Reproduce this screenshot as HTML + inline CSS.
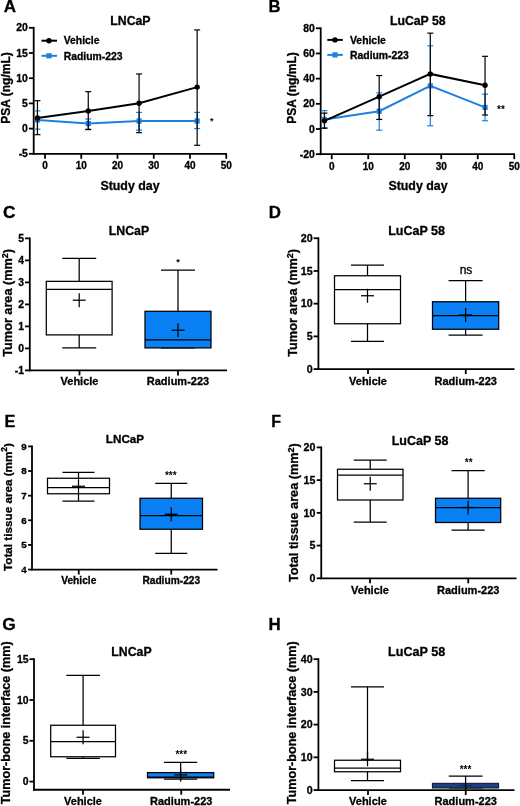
<!DOCTYPE html>
<html lang="en">
<head>
<meta charset="utf-8">
<title>Figure</title>
<style>
html,body{margin:0;padding:0;background:#fff;}
svg{display:block;font-family:"Liberation Sans",Arial,sans-serif;filter:blur(0.3px);}
text{stroke:#000;stroke-width:.3px;}
text.st{stroke:none;}
</style>
</head>
<body>
<svg width="520" height="806" viewBox="0 0 520 806">
<rect x="0" y="0" width="520" height="806" fill="#fff"/>
<g>
<text x="3.7" y="11.9" font-size="17" text-anchor="start" font-weight="bold" >A</text>
<line x1="33.7" y1="26.9" x2="33.7" y2="154.7" stroke="#000" stroke-width="1.8" />
<line x1="28.9" y1="27.8" x2="33.7" y2="27.8" stroke="#000" stroke-width="1.8" />
<text x="27.9" y="31.44" font-size="10.4" text-anchor="end" font-weight="bold" >20</text>
<line x1="28.9" y1="53" x2="33.7" y2="53" stroke="#000" stroke-width="1.8" />
<text x="27.9" y="56.64" font-size="10.4" text-anchor="end" font-weight="bold" >15</text>
<line x1="28.9" y1="78.2" x2="33.7" y2="78.2" stroke="#000" stroke-width="1.8" />
<text x="27.9" y="81.84" font-size="10.4" text-anchor="end" font-weight="bold" >10</text>
<line x1="28.9" y1="103.4" x2="33.7" y2="103.4" stroke="#000" stroke-width="1.8" />
<text x="27.9" y="107.04" font-size="10.4" text-anchor="end" font-weight="bold" >5</text>
<line x1="28.9" y1="128.6" x2="33.7" y2="128.6" stroke="#000" stroke-width="1.8" />
<text x="27.9" y="132.24" font-size="10.4" text-anchor="end" font-weight="bold" >0</text>
<line x1="28.9" y1="153.8" x2="33.7" y2="153.8" stroke="#000" stroke-width="1.8" />
<text x="27.9" y="157.44" font-size="10.4" text-anchor="end" font-weight="bold" >-5</text>
<line x1="32.8" y1="153.8" x2="227" y2="153.8" stroke="#000" stroke-width="1.8" />
<line x1="45" y1="153.8" x2="45" y2="158.8" stroke="#000" stroke-width="1.8" />
<text x="45" y="169.2" font-size="10" text-anchor="middle" font-weight="bold" >0</text>
<line x1="81.25" y1="153.8" x2="81.25" y2="158.8" stroke="#000" stroke-width="1.8" />
<text x="81.25" y="169.2" font-size="10" text-anchor="middle" font-weight="bold" >10</text>
<line x1="117.5" y1="153.8" x2="117.5" y2="158.8" stroke="#000" stroke-width="1.8" />
<text x="117.5" y="169.2" font-size="10" text-anchor="middle" font-weight="bold" >20</text>
<line x1="153.75" y1="153.8" x2="153.75" y2="158.8" stroke="#000" stroke-width="1.8" />
<text x="153.75" y="169.2" font-size="10" text-anchor="middle" font-weight="bold" >30</text>
<line x1="190" y1="153.8" x2="190" y2="158.8" stroke="#000" stroke-width="1.8" />
<text x="190" y="169.2" font-size="10" text-anchor="middle" font-weight="bold" >40</text>
<line x1="226.25" y1="153.8" x2="226.25" y2="158.8" stroke="#000" stroke-width="1.8" />
<text x="226.25" y="169.2" font-size="10" text-anchor="middle" font-weight="bold" >50</text>
<text x="130.4" y="25" font-size="12.3" text-anchor="middle" font-weight="bold" >LNCaP</text>
<text x="130" y="189.8" font-size="12.4" text-anchor="middle" font-weight="bold" >Study day</text>
<text transform="translate(10,88) rotate(-90)" font-size="12" text-anchor="middle" font-weight="bold">PSA (ng/mL)</text>
<line x1="41.5" y1="40.7" x2="57" y2="40.7" stroke="#000" stroke-width="2" />
<circle cx="49" cy="40.7" r="2.7" fill="#000"/>
<text x="63.7" y="44.4" font-size="10.4" text-anchor="start" font-weight="bold" >Vehicle</text>
<line x1="41.5" y1="55.8" x2="57" y2="55.8" stroke="#1f80e0" stroke-width="2" />
<rect x="46.4" y="53.2" width="5.2" height="5.2" fill="#1f80e0"/>
<text x="63.7" y="59.6" font-size="10.4" text-anchor="start" font-weight="bold" >Radium-223</text>
<line x1="37.44" y1="129.11" x2="37.44" y2="110.89" stroke="#1f80e0" stroke-width="1.2" />
<line x1="34.44" y1="129.11" x2="40.44" y2="129.11" stroke="#1f80e0" stroke-width="1.2" />
<line x1="34.44" y1="110.89" x2="40.44" y2="110.89" stroke="#1f80e0" stroke-width="1.2" />
<line x1="88.26" y1="129.11" x2="88.26" y2="118.99" stroke="#1f80e0" stroke-width="1.2" />
<line x1="85.26" y1="129.11" x2="91.26" y2="129.11" stroke="#1f80e0" stroke-width="1.2" />
<line x1="85.26" y1="118.99" x2="91.26" y2="118.99" stroke="#1f80e0" stroke-width="1.2" />
<line x1="139.08" y1="130.12" x2="139.08" y2="112.41" stroke="#1f80e0" stroke-width="1.2" />
<line x1="136.08" y1="130.12" x2="142.08" y2="130.12" stroke="#1f80e0" stroke-width="1.2" />
<line x1="136.08" y1="112.41" x2="142.08" y2="112.41" stroke="#1f80e0" stroke-width="1.2" />
<line x1="197.16" y1="128.6" x2="197.16" y2="112.41" stroke="#1f80e0" stroke-width="1.2" />
<line x1="194.16" y1="128.6" x2="200.16" y2="128.6" stroke="#1f80e0" stroke-width="1.2" />
<line x1="194.16" y1="112.41" x2="200.16" y2="112.41" stroke="#1f80e0" stroke-width="1.2" />
<polyline points="37.44,120.00 88.26,123.54 139.08,121.01 197.16,121.01" fill="none" stroke="#1f80e0" stroke-width="2"/>
<rect x="34.84" y="117.4" width="5.2" height="5.2" fill="#1f80e0"/>
<rect x="85.66" y="120.94" width="5.2" height="5.2" fill="#1f80e0"/>
<rect x="136.48" y="118.41" width="5.2" height="5.2" fill="#1f80e0"/>
<rect x="194.56" y="118.41" width="5.2" height="5.2" fill="#1f80e0"/>
<line x1="37.44" y1="134.67" x2="37.44" y2="100.67" stroke="#000" stroke-width="1.2" />
<line x1="34.44" y1="134.67" x2="40.44" y2="134.67" stroke="#000" stroke-width="1.2" />
<line x1="34.44" y1="100.67" x2="40.44" y2="100.67" stroke="#000" stroke-width="1.2" />
<line x1="88.26" y1="129.61" x2="88.26" y2="91.66" stroke="#000" stroke-width="1.2" />
<line x1="85.26" y1="129.61" x2="91.26" y2="129.61" stroke="#000" stroke-width="1.2" />
<line x1="85.26" y1="91.66" x2="91.26" y2="91.66" stroke="#000" stroke-width="1.2" />
<line x1="139.08" y1="132.65" x2="139.08" y2="73.95" stroke="#000" stroke-width="1.2" />
<line x1="136.08" y1="132.65" x2="142.08" y2="132.65" stroke="#000" stroke-width="1.2" />
<line x1="136.08" y1="73.95" x2="142.08" y2="73.95" stroke="#000" stroke-width="1.2" />
<line x1="197.16" y1="145.3" x2="197.16" y2="29.93" stroke="#000" stroke-width="1.2" />
<line x1="194.16" y1="145.3" x2="200.16" y2="145.3" stroke="#000" stroke-width="1.2" />
<line x1="194.16" y1="29.93" x2="200.16" y2="29.93" stroke="#000" stroke-width="1.2" />
<polyline points="37.44,117.97 88.26,110.89 139.08,103.30 197.16,87.11" fill="none" stroke="#000" stroke-width="2"/>
<circle cx="37.44" cy="117.97" r="2.7" fill="#000"/>
<circle cx="88.26" cy="110.89" r="2.7" fill="#000"/>
<circle cx="139.08" cy="103.3" r="2.7" fill="#000"/>
<circle cx="197.16" cy="87.11" r="2.7" fill="#000"/>
<text x="211.8" y="123.5" font-size="9" text-anchor="middle" font-weight="bold" class="st">*</text>
</g>
<g>
<text x="268.6" y="11.8" font-size="16.6" text-anchor="start" font-weight="bold" >B</text>
<line x1="320.7" y1="27.38" x2="320.7" y2="155.08" stroke="#000" stroke-width="1.8" />
<line x1="315.9" y1="28.28" x2="320.7" y2="28.28" stroke="#000" stroke-width="1.8" />
<text x="314.9" y="31.92" font-size="10.4" text-anchor="end" font-weight="bold" >80</text>
<line x1="315.9" y1="53.46" x2="320.7" y2="53.46" stroke="#000" stroke-width="1.8" />
<text x="314.9" y="57.1" font-size="10.4" text-anchor="end" font-weight="bold" >60</text>
<line x1="315.9" y1="78.64" x2="320.7" y2="78.64" stroke="#000" stroke-width="1.8" />
<text x="314.9" y="82.28" font-size="10.4" text-anchor="end" font-weight="bold" >40</text>
<line x1="315.9" y1="103.82" x2="320.7" y2="103.82" stroke="#000" stroke-width="1.8" />
<text x="314.9" y="107.46" font-size="10.4" text-anchor="end" font-weight="bold" >20</text>
<line x1="315.9" y1="129" x2="320.7" y2="129" stroke="#000" stroke-width="1.8" />
<text x="314.9" y="132.64" font-size="10.4" text-anchor="end" font-weight="bold" >0</text>
<line x1="315.9" y1="154.18" x2="320.7" y2="154.18" stroke="#000" stroke-width="1.8" />
<text x="314.9" y="157.82" font-size="10.4" text-anchor="end" font-weight="bold" >-20</text>
<line x1="319.8" y1="154.18" x2="515" y2="154.18" stroke="#000" stroke-width="1.8" />
<line x1="331.75" y1="154.18" x2="331.75" y2="159.18" stroke="#000" stroke-width="1.8" />
<text x="331.75" y="169.5" font-size="10" text-anchor="middle" font-weight="bold" >0</text>
<line x1="368.25" y1="154.18" x2="368.25" y2="159.18" stroke="#000" stroke-width="1.8" />
<text x="368.25" y="169.5" font-size="10" text-anchor="middle" font-weight="bold" >10</text>
<line x1="404.75" y1="154.18" x2="404.75" y2="159.18" stroke="#000" stroke-width="1.8" />
<text x="404.75" y="169.5" font-size="10" text-anchor="middle" font-weight="bold" >20</text>
<line x1="441.25" y1="154.18" x2="441.25" y2="159.18" stroke="#000" stroke-width="1.8" />
<text x="441.25" y="169.5" font-size="10" text-anchor="middle" font-weight="bold" >30</text>
<line x1="477.75" y1="154.18" x2="477.75" y2="159.18" stroke="#000" stroke-width="1.8" />
<text x="477.75" y="169.5" font-size="10" text-anchor="middle" font-weight="bold" >40</text>
<line x1="514.25" y1="154.18" x2="514.25" y2="159.18" stroke="#000" stroke-width="1.8" />
<text x="514.25" y="169.5" font-size="10" text-anchor="middle" font-weight="bold" >50</text>
<text x="417.8" y="25" font-size="12.3" text-anchor="middle" font-weight="bold" >LuCaP 58</text>
<text x="418" y="189.8" font-size="12.4" text-anchor="middle" font-weight="bold" >Study day</text>
<text transform="translate(295.5,88) rotate(-90)" font-size="12" text-anchor="middle" font-weight="bold">PSA (ng/mL)</text>
<line x1="327.3" y1="39.9" x2="342.8" y2="39.9" stroke="#000" stroke-width="2" />
<circle cx="335" cy="39.9" r="2.7" fill="#000"/>
<text x="350" y="43.7" font-size="10.4" text-anchor="start" font-weight="bold" >Vehicle</text>
<line x1="327.3" y1="54.9" x2="342.8" y2="54.9" stroke="#1f80e0" stroke-width="2" />
<rect x="332.4" y="52.3" width="5.2" height="5.2" fill="#1f80e0"/>
<text x="350" y="58.6" font-size="10.4" text-anchor="start" font-weight="bold" >Radium-223</text>
<line x1="324.45" y1="127.67" x2="324.45" y2="110.59" stroke="#1f80e0" stroke-width="1.2" />
<line x1="321.45" y1="127.67" x2="327.45" y2="127.67" stroke="#1f80e0" stroke-width="1.2" />
<line x1="321.45" y1="110.59" x2="327.45" y2="110.59" stroke="#1f80e0" stroke-width="1.2" />
<line x1="379.2" y1="130.2" x2="379.2" y2="92.88" stroke="#1f80e0" stroke-width="1.2" />
<line x1="376.2" y1="130.2" x2="382.2" y2="130.2" stroke="#1f80e0" stroke-width="1.2" />
<line x1="376.2" y1="92.88" x2="382.2" y2="92.88" stroke="#1f80e0" stroke-width="1.2" />
<line x1="430.3" y1="125.77" x2="430.3" y2="45.82" stroke="#1f80e0" stroke-width="1.2" />
<line x1="427.3" y1="125.77" x2="433.3" y2="125.77" stroke="#1f80e0" stroke-width="1.2" />
<line x1="427.3" y1="45.82" x2="433.3" y2="45.82" stroke="#1f80e0" stroke-width="1.2" />
<line x1="485.05" y1="120.71" x2="485.05" y2="94.15" stroke="#1f80e0" stroke-width="1.2" />
<line x1="482.05" y1="120.71" x2="488.05" y2="120.71" stroke="#1f80e0" stroke-width="1.2" />
<line x1="482.05" y1="94.15" x2="488.05" y2="94.15" stroke="#1f80e0" stroke-width="1.2" />
<polyline points="324.45,119.45 379.20,111.22 430.30,85.92 485.05,107.43" fill="none" stroke="#1f80e0" stroke-width="2"/>
<rect x="321.85" y="116.85" width="5.2" height="5.2" fill="#1f80e0"/>
<rect x="376.6" y="108.62" width="5.2" height="5.2" fill="#1f80e0"/>
<rect x="427.7" y="83.32" width="5.2" height="5.2" fill="#1f80e0"/>
<rect x="482.45" y="104.83" width="5.2" height="5.2" fill="#1f80e0"/>
<line x1="324.45" y1="128.3" x2="324.45" y2="113.12" stroke="#000" stroke-width="1.2" />
<line x1="321.45" y1="128.3" x2="327.45" y2="128.3" stroke="#000" stroke-width="1.2" />
<line x1="321.45" y1="113.12" x2="327.45" y2="113.12" stroke="#000" stroke-width="1.2" />
<line x1="379.2" y1="119.45" x2="379.2" y2="75.55" stroke="#000" stroke-width="1.2" />
<line x1="376.2" y1="119.45" x2="382.2" y2="119.45" stroke="#000" stroke-width="1.2" />
<line x1="376.2" y1="75.55" x2="382.2" y2="75.55" stroke="#000" stroke-width="1.2" />
<line x1="430.3" y1="115.65" x2="430.3" y2="33.17" stroke="#000" stroke-width="1.2" />
<line x1="427.3" y1="115.65" x2="433.3" y2="115.65" stroke="#000" stroke-width="1.2" />
<line x1="427.3" y1="33.17" x2="433.3" y2="33.17" stroke="#000" stroke-width="1.2" />
<line x1="485.05" y1="115.02" x2="485.05" y2="56.32" stroke="#000" stroke-width="1.2" />
<line x1="482.05" y1="115.02" x2="488.05" y2="115.02" stroke="#000" stroke-width="1.2" />
<line x1="482.05" y1="56.32" x2="488.05" y2="56.32" stroke="#000" stroke-width="1.2" />
<polyline points="324.45,120.84 379.20,96.68 430.30,73.91 485.05,85.29" fill="none" stroke="#000" stroke-width="2"/>
<circle cx="324.45" cy="120.84" r="2.7" fill="#000"/>
<circle cx="379.2" cy="96.68" r="2.7" fill="#000"/>
<circle cx="430.3" cy="73.91" r="2.7" fill="#000"/>
<circle cx="485.05" cy="85.29" r="2.7" fill="#000"/>
<text x="501" y="113.3" font-size="10" text-anchor="middle" font-weight="bold" class="st">**</text>
</g>
<g>
<text x="3" y="217.8" font-size="17.3" text-anchor="start" font-weight="bold" >C</text>
<line x1="29.8" y1="237.5" x2="29.8" y2="371.3" stroke="#000" stroke-width="1.8" />
<line x1="25" y1="238.4" x2="29.8" y2="238.4" stroke="#000" stroke-width="1.8" />
<text x="24" y="242.04" font-size="10.4" text-anchor="end" font-weight="bold" >5</text>
<line x1="25" y1="260.4" x2="29.8" y2="260.4" stroke="#000" stroke-width="1.8" />
<text x="24" y="264.04" font-size="10.4" text-anchor="end" font-weight="bold" >4</text>
<line x1="25" y1="282.4" x2="29.8" y2="282.4" stroke="#000" stroke-width="1.8" />
<text x="24" y="286.04" font-size="10.4" text-anchor="end" font-weight="bold" >3</text>
<line x1="25" y1="304.4" x2="29.8" y2="304.4" stroke="#000" stroke-width="1.8" />
<text x="24" y="308.04" font-size="10.4" text-anchor="end" font-weight="bold" >2</text>
<line x1="25" y1="326.4" x2="29.8" y2="326.4" stroke="#000" stroke-width="1.8" />
<text x="24" y="330.04" font-size="10.4" text-anchor="end" font-weight="bold" >1</text>
<line x1="25" y1="348.4" x2="29.8" y2="348.4" stroke="#000" stroke-width="1.8" />
<text x="24" y="352.04" font-size="10.4" text-anchor="end" font-weight="bold" >0</text>
<line x1="25" y1="370.4" x2="29.8" y2="370.4" stroke="#000" stroke-width="1.8" />
<text x="24" y="374.04" font-size="10.4" text-anchor="end" font-weight="bold" >-1</text>
<line x1="28.9" y1="370.4" x2="227" y2="370.4" stroke="#000" stroke-width="1.8" />
<line x1="79.5" y1="370.4" x2="79.5" y2="375.4" stroke="#000" stroke-width="1.8" />
<text x="79.5" y="385" font-size="11" text-anchor="middle" font-weight="bold" >Vehicle</text>
<line x1="178" y1="370.4" x2="178" y2="375.4" stroke="#000" stroke-width="1.8" />
<text x="178" y="385" font-size="11" text-anchor="middle" font-weight="bold" >Radium-223</text>
<text x="129" y="235" font-size="12.3" text-anchor="middle" font-weight="bold" >LNCaP</text>
<text transform="translate(12.3,302.8) rotate(-90)" font-size="12.7" text-anchor="middle" font-weight="bold">Tumor area (mm<tspan font-size="9.14" dy="-4.57">2</tspan><tspan dy="4.57">)</tspan></text>
<line x1="79.2" y1="258.3" x2="79.2" y2="281.35" stroke="#000" stroke-width="1.25" />
<line x1="79.2" y1="334.9" x2="79.2" y2="347.9" stroke="#000" stroke-width="1.25" />
<line x1="62.2" y1="258.3" x2="96.2" y2="258.3" stroke="#000" stroke-width="1.25" />
<line x1="62.2" y1="347.9" x2="96.2" y2="347.9" stroke="#000" stroke-width="1.25" />
<rect x="46.3" y="281.35" width="65.8" height="53.55" fill="#fff" stroke="#000" stroke-width="1.25"/>
<line x1="46.3" y1="289.4" x2="112.1" y2="289.4" stroke="#000" stroke-width="1.25" />
<line x1="72.7" y1="300.2" x2="85.7" y2="300.2" stroke="#000" stroke-width="1.25" />
<line x1="79.2" y1="293.2" x2="79.2" y2="307.2" stroke="#000" stroke-width="1.25" />
<line x1="178" y1="270.1" x2="178" y2="311.3" stroke="#000" stroke-width="1.25" />
<line x1="178" y1="347.9" x2="178" y2="347.9" stroke="#000" stroke-width="1.25" />
<line x1="161" y1="270.1" x2="195" y2="270.1" stroke="#000" stroke-width="1.25" />
<line x1="161" y1="347.9" x2="195" y2="347.9" stroke="#000" stroke-width="1.25" />
<rect x="145" y="311.3" width="66" height="36.6" fill="#0a80f5" stroke="#000" stroke-width="1.25"/>
<line x1="145" y1="339.8" x2="211" y2="339.8" stroke="#000" stroke-width="1.25" />
<line x1="171.5" y1="330.2" x2="184.5" y2="330.2" stroke="#000" stroke-width="1.25" />
<line x1="178" y1="323.2" x2="178" y2="337.2" stroke="#000" stroke-width="1.25" />
<text x="178" y="264.6" font-size="9.5" text-anchor="middle" font-weight="bold" class="st">*</text>
</g>
<g>
<text x="268.7" y="218" font-size="16.9" text-anchor="start" font-weight="bold" >D</text>
<line x1="318.4" y1="237.34" x2="318.4" y2="370" stroke="#000" stroke-width="1.8" />
<line x1="313.6" y1="238.24" x2="318.4" y2="238.24" stroke="#000" stroke-width="1.8" />
<text x="312.6" y="241.99" font-size="10.7" text-anchor="end" font-weight="bold" >20</text>
<line x1="313.6" y1="270.96" x2="318.4" y2="270.96" stroke="#000" stroke-width="1.8" />
<text x="312.6" y="274.7" font-size="10.7" text-anchor="end" font-weight="bold" >15</text>
<line x1="313.6" y1="303.67" x2="318.4" y2="303.67" stroke="#000" stroke-width="1.8" />
<text x="312.6" y="307.42" font-size="10.7" text-anchor="end" font-weight="bold" >10</text>
<line x1="313.6" y1="336.38" x2="318.4" y2="336.38" stroke="#000" stroke-width="1.8" />
<text x="312.6" y="340.13" font-size="10.7" text-anchor="end" font-weight="bold" >5</text>
<line x1="313.6" y1="369.1" x2="318.4" y2="369.1" stroke="#000" stroke-width="1.8" />
<text x="312.6" y="372.85" font-size="10.7" text-anchor="end" font-weight="bold" >0</text>
<line x1="317.5" y1="369.1" x2="514.5" y2="369.1" stroke="#000" stroke-width="1.8" />
<line x1="368" y1="369.1" x2="368" y2="374.1" stroke="#000" stroke-width="1.8" />
<text x="368" y="385" font-size="11" text-anchor="middle" font-weight="bold" >Vehicle</text>
<line x1="465.75" y1="369.1" x2="465.75" y2="374.1" stroke="#000" stroke-width="1.8" />
<text x="465.75" y="385" font-size="11" text-anchor="middle" font-weight="bold" >Radium-223</text>
<text x="416.5" y="234.7" font-size="12.5" text-anchor="middle" font-weight="bold" >LuCaP 58</text>
<text transform="translate(297.4,302.8) rotate(-90)" font-size="12.7" text-anchor="middle" font-weight="bold">Tumor area (mm<tspan font-size="9.14" dy="-4.57">2</tspan><tspan dy="4.57">)</tspan></text>
<line x1="367.5" y1="265" x2="367.5" y2="275.75" stroke="#000" stroke-width="1.25" />
<line x1="367.5" y1="323.75" x2="367.5" y2="341.25" stroke="#000" stroke-width="1.25" />
<line x1="351" y1="265" x2="384" y2="265" stroke="#000" stroke-width="1.25" />
<line x1="351" y1="341.25" x2="384" y2="341.25" stroke="#000" stroke-width="1.25" />
<rect x="334.5" y="275.75" width="66" height="48" fill="#fff" stroke="#000" stroke-width="1.25"/>
<line x1="334.5" y1="289.5" x2="400.5" y2="289.5" stroke="#000" stroke-width="1.25" />
<line x1="361" y1="295.75" x2="374" y2="295.75" stroke="#000" stroke-width="1.25" />
<line x1="367.5" y1="288.75" x2="367.5" y2="302.75" stroke="#000" stroke-width="1.25" />
<line x1="465.6" y1="280.5" x2="465.6" y2="301.75" stroke="#000" stroke-width="1.25" />
<line x1="465.6" y1="329.25" x2="465.6" y2="335" stroke="#000" stroke-width="1.25" />
<line x1="448.6" y1="280.5" x2="482.6" y2="280.5" stroke="#000" stroke-width="1.25" />
<line x1="448.6" y1="335" x2="482.6" y2="335" stroke="#000" stroke-width="1.25" />
<rect x="432.5" y="301.75" width="66.2" height="27.5" fill="#0a80f5" stroke="#000" stroke-width="1.25"/>
<line x1="432.5" y1="315.5" x2="498.7" y2="315.5" stroke="#000" stroke-width="1.25" />
<line x1="459.1" y1="315" x2="472.1" y2="315" stroke="#000" stroke-width="1.25" />
<line x1="465.6" y1="308" x2="465.6" y2="322" stroke="#000" stroke-width="1.25" />
<text x="466" y="274.2" font-size="12" text-anchor="middle" font-weight="normal" stroke="#000" stroke-width="0.25">ns</text>
</g>
<g>
<text x="4.5" y="427" font-size="16.3" text-anchor="start" font-weight="bold" >E</text>
<line x1="32" y1="445.5" x2="32" y2="570.45" stroke="#000" stroke-width="1.8" />
<line x1="28.1" y1="446.4" x2="32" y2="446.4" stroke="#000" stroke-width="1.8" />
<text x="26.8" y="449.86" font-size="9.9" text-anchor="end" font-weight="bold" >9</text>
<line x1="28.1" y1="471.03" x2="32" y2="471.03" stroke="#000" stroke-width="1.8" />
<text x="26.8" y="474.49" font-size="9.9" text-anchor="end" font-weight="bold" >8</text>
<line x1="28.1" y1="495.66" x2="32" y2="495.66" stroke="#000" stroke-width="1.8" />
<text x="26.8" y="499.12" font-size="9.9" text-anchor="end" font-weight="bold" >7</text>
<line x1="28.1" y1="520.29" x2="32" y2="520.29" stroke="#000" stroke-width="1.8" />
<text x="26.8" y="523.75" font-size="9.9" text-anchor="end" font-weight="bold" >6</text>
<line x1="28.1" y1="544.92" x2="32" y2="544.92" stroke="#000" stroke-width="1.8" />
<text x="26.8" y="548.38" font-size="9.9" text-anchor="end" font-weight="bold" >5</text>
<line x1="28.1" y1="569.55" x2="32" y2="569.55" stroke="#000" stroke-width="1.8" />
<text x="26.8" y="573.01" font-size="9.9" text-anchor="end" font-weight="bold" >4</text>
<line x1="31.1" y1="569.55" x2="217.5" y2="569.55" stroke="#000" stroke-width="1.8" />
<line x1="78.75" y1="569.55" x2="78.75" y2="574.55" stroke="#000" stroke-width="1.8" />
<text x="78.75" y="583.6" font-size="10.2" text-anchor="middle" font-weight="bold" >Vehicle</text>
<line x1="171.25" y1="569.55" x2="171.25" y2="574.55" stroke="#000" stroke-width="1.8" />
<text x="171.25" y="583.6" font-size="10.2" text-anchor="middle" font-weight="bold" >Radium-223</text>
<text x="125" y="442.5" font-size="11.7" text-anchor="middle" font-weight="bold" >LNCaP</text>
<text transform="translate(11.5,507) rotate(-90)" font-size="11.7" text-anchor="middle" font-weight="bold">Total tissue area (mm<tspan font-size="8.42" dy="-4.21">2</tspan><tspan dy="4.21">)</tspan></text>
<line x1="78.5" y1="472.25" x2="78.5" y2="478.25" stroke="#000" stroke-width="1.25" />
<line x1="78.5" y1="493.75" x2="78.5" y2="501" stroke="#000" stroke-width="1.25" />
<line x1="62.5" y1="472.25" x2="94.5" y2="472.25" stroke="#000" stroke-width="1.25" />
<line x1="62.5" y1="501" x2="94.5" y2="501" stroke="#000" stroke-width="1.25" />
<rect x="47.5" y="478.25" width="62" height="15.5" fill="#fff" stroke="#000" stroke-width="1.25"/>
<line x1="47.5" y1="487.5" x2="109.5" y2="487.5" stroke="#000" stroke-width="1.25" />
<line x1="72" y1="486.25" x2="85" y2="486.25" stroke="#000" stroke-width="1.25" />
<line x1="78.5" y1="479.25" x2="78.5" y2="493.25" stroke="#000" stroke-width="1.25" />
<line x1="171.25" y1="483.25" x2="171.25" y2="498.25" stroke="#000" stroke-width="1.25" />
<line x1="171.25" y1="529.25" x2="171.25" y2="553.25" stroke="#000" stroke-width="1.25" />
<line x1="155.25" y1="483.25" x2="187.25" y2="483.25" stroke="#000" stroke-width="1.25" />
<line x1="155.25" y1="553.25" x2="187.25" y2="553.25" stroke="#000" stroke-width="1.25" />
<rect x="140" y="498.25" width="62.5" height="31" fill="#0a80f5" stroke="#000" stroke-width="1.25"/>
<line x1="140" y1="515.5" x2="202.5" y2="515.5" stroke="#000" stroke-width="1.25" />
<line x1="164.75" y1="514.25" x2="177.75" y2="514.25" stroke="#000" stroke-width="1.25" />
<line x1="171.25" y1="507.25" x2="171.25" y2="521.25" stroke="#000" stroke-width="1.25" />
<text x="170.75" y="478.5" font-size="10" text-anchor="middle" font-weight="bold" class="st">***</text>
</g>
<g>
<text x="271.2" y="427" font-size="16" text-anchor="start" font-weight="bold" >F</text>
<line x1="321.25" y1="446.5" x2="321.25" y2="579.2" stroke="#000" stroke-width="1.8" />
<line x1="316.75" y1="447.4" x2="321.25" y2="447.4" stroke="#000" stroke-width="1.8" />
<text x="315.45" y="451.14" font-size="10.7" text-anchor="end" font-weight="bold" >20</text>
<line x1="316.75" y1="480.12" x2="321.25" y2="480.12" stroke="#000" stroke-width="1.8" />
<text x="315.45" y="483.87" font-size="10.7" text-anchor="end" font-weight="bold" >15</text>
<line x1="316.75" y1="512.85" x2="321.25" y2="512.85" stroke="#000" stroke-width="1.8" />
<text x="315.45" y="516.59" font-size="10.7" text-anchor="end" font-weight="bold" >10</text>
<line x1="316.75" y1="545.57" x2="321.25" y2="545.57" stroke="#000" stroke-width="1.8" />
<text x="315.45" y="549.32" font-size="10.7" text-anchor="end" font-weight="bold" >5</text>
<line x1="316.75" y1="578.3" x2="321.25" y2="578.3" stroke="#000" stroke-width="1.8" />
<text x="315.45" y="582.04" font-size="10.7" text-anchor="end" font-weight="bold" >0</text>
<line x1="320.35" y1="578.3" x2="516.5" y2="578.3" stroke="#000" stroke-width="1.8" />
<line x1="370" y1="578.3" x2="370" y2="583.3" stroke="#000" stroke-width="1.8" />
<text x="370" y="593.5" font-size="11" text-anchor="middle" font-weight="bold" >Vehicle</text>
<line x1="468.25" y1="578.3" x2="468.25" y2="583.3" stroke="#000" stroke-width="1.8" />
<text x="468.25" y="593.5" font-size="11" text-anchor="middle" font-weight="bold" >Radium-223</text>
<text x="420" y="444.6" font-size="12.5" text-anchor="middle" font-weight="bold" >LuCaP 58</text>
<text transform="translate(298.2,512.6) rotate(-90)" font-size="12.7" text-anchor="middle" font-weight="bold">Total tissue area (mm<tspan font-size="9.14" dy="-4.57">2</tspan><tspan dy="4.57">)</tspan></text>
<line x1="370.25" y1="460" x2="370.25" y2="469.25" stroke="#000" stroke-width="1.25" />
<line x1="370.25" y1="500" x2="370.25" y2="522" stroke="#000" stroke-width="1.25" />
<line x1="353.75" y1="460" x2="386.75" y2="460" stroke="#000" stroke-width="1.25" />
<line x1="353.75" y1="522" x2="386.75" y2="522" stroke="#000" stroke-width="1.25" />
<rect x="337.5" y="469.25" width="65.5" height="30.75" fill="#fff" stroke="#000" stroke-width="1.25"/>
<line x1="337.5" y1="475" x2="403" y2="475" stroke="#000" stroke-width="1.25" />
<line x1="363.75" y1="483.75" x2="376.75" y2="483.75" stroke="#000" stroke-width="1.25" />
<line x1="370.25" y1="476.75" x2="370.25" y2="490.75" stroke="#000" stroke-width="1.25" />
<line x1="468.1" y1="470.5" x2="468.1" y2="498.25" stroke="#000" stroke-width="1.25" />
<line x1="468.1" y1="522.5" x2="468.1" y2="530" stroke="#000" stroke-width="1.25" />
<line x1="451.5" y1="470.5" x2="484.7" y2="470.5" stroke="#000" stroke-width="1.25" />
<line x1="451.5" y1="530" x2="484.7" y2="530" stroke="#000" stroke-width="1.25" />
<rect x="435.5" y="498.25" width="65.2" height="24.25" fill="#0a80f5" stroke="#000" stroke-width="1.25"/>
<line x1="435.5" y1="507.5" x2="500.7" y2="507.5" stroke="#000" stroke-width="1.25" />
<line x1="461.6" y1="507.5" x2="474.6" y2="507.5" stroke="#000" stroke-width="1.25" />
<line x1="468.1" y1="500.5" x2="468.1" y2="514.5" stroke="#000" stroke-width="1.25" />
<text x="468.75" y="466" font-size="10" text-anchor="middle" font-weight="bold" class="st">**</text>
</g>
<g>
<text x="2.3" y="630.4" font-size="17.4" text-anchor="start" font-weight="bold" >G</text>
<line x1="34" y1="658.3" x2="34" y2="790.65" stroke="#000" stroke-width="1.8" />
<line x1="29.5" y1="659.2" x2="34" y2="659.2" stroke="#000" stroke-width="1.8" />
<text x="28.5" y="662.84" font-size="10.4" text-anchor="end" font-weight="bold" >15</text>
<line x1="29.5" y1="700" x2="34" y2="700" stroke="#000" stroke-width="1.8" />
<text x="28.5" y="703.64" font-size="10.4" text-anchor="end" font-weight="bold" >10</text>
<line x1="29.5" y1="740.8" x2="34" y2="740.8" stroke="#000" stroke-width="1.8" />
<text x="28.5" y="744.44" font-size="10.4" text-anchor="end" font-weight="bold" >5</text>
<line x1="29.5" y1="781.6" x2="34" y2="781.6" stroke="#000" stroke-width="1.8" />
<text x="28.5" y="785.24" font-size="10.4" text-anchor="end" font-weight="bold" >0</text>
<line x1="33.1" y1="789.75" x2="230" y2="789.75" stroke="#000" stroke-width="1.8" />
<line x1="83" y1="789.75" x2="83" y2="794.75" stroke="#000" stroke-width="1.8" />
<text x="83" y="804.5" font-size="11" text-anchor="middle" font-weight="bold" >Vehicle</text>
<line x1="181.25" y1="789.75" x2="181.25" y2="794.75" stroke="#000" stroke-width="1.8" />
<text x="181.25" y="804.5" font-size="11" text-anchor="middle" font-weight="bold" >Radium-223</text>
<text x="131.5" y="656" font-size="12.3" text-anchor="middle" font-weight="bold" >LNCaP</text>
<text transform="translate(9.8,722.8) rotate(-90)" font-size="12.6" text-anchor="middle" font-weight="bold">Tumor-bone interface (mm)</text>
<line x1="83.1" y1="675.25" x2="83.1" y2="725.25" stroke="#000" stroke-width="1.25" />
<line x1="83.1" y1="756.75" x2="83.1" y2="758.25" stroke="#000" stroke-width="1.25" />
<line x1="66.3" y1="675.25" x2="99.9" y2="675.25" stroke="#000" stroke-width="1.25" />
<line x1="66.3" y1="758.25" x2="99.9" y2="758.25" stroke="#000" stroke-width="1.25" />
<rect x="50.7" y="725.25" width="64.8" height="31.5" fill="#fff" stroke="#000" stroke-width="1.25"/>
<line x1="50.7" y1="741.5" x2="115.5" y2="741.5" stroke="#000" stroke-width="1.25" />
<line x1="76.6" y1="737.25" x2="89.6" y2="737.25" stroke="#000" stroke-width="1.25" />
<line x1="83.1" y1="730.25" x2="83.1" y2="744.25" stroke="#000" stroke-width="1.25" />
<line x1="180.6" y1="762.3" x2="180.6" y2="772.6" stroke="#000" stroke-width="1.25" />
<line x1="180.6" y1="777.8" x2="180.6" y2="779.2" stroke="#000" stroke-width="1.25" />
<line x1="164" y1="762.3" x2="197.2" y2="762.3" stroke="#000" stroke-width="1.25" />
<line x1="164" y1="779.2" x2="197.2" y2="779.2" stroke="#000" stroke-width="1.25" />
<rect x="147.5" y="772.6" width="66.2" height="5.2" fill="#0a80f5" stroke="#000" stroke-width="1.25"/>
<line x1="147.5" y1="777.2" x2="213.7" y2="777.2" stroke="#000" stroke-width="1.25" />
<line x1="173.9" y1="774.9" x2="187.3" y2="774.9" stroke="#000" stroke-width="1.25" />
<line x1="180.6" y1="768.2" x2="180.6" y2="781.6" stroke="#000" stroke-width="1.25" />
<text x="181.25" y="757.6" font-size="10" text-anchor="middle" font-weight="bold" class="st">***</text>
</g>
<g>
<text x="268.6" y="630.3" font-size="16.9" text-anchor="start" font-weight="bold" >H</text>
<line x1="318.4" y1="658.27" x2="318.4" y2="790.95" stroke="#000" stroke-width="1.8" />
<line x1="313.6" y1="659.17" x2="318.4" y2="659.17" stroke="#000" stroke-width="1.8" />
<text x="312.6" y="662.91" font-size="10.7" text-anchor="end" font-weight="bold" >40</text>
<line x1="313.6" y1="691.89" x2="318.4" y2="691.89" stroke="#000" stroke-width="1.8" />
<text x="312.6" y="695.63" font-size="10.7" text-anchor="end" font-weight="bold" >30</text>
<line x1="313.6" y1="724.61" x2="318.4" y2="724.61" stroke="#000" stroke-width="1.8" />
<text x="312.6" y="728.35" font-size="10.7" text-anchor="end" font-weight="bold" >20</text>
<line x1="313.6" y1="757.33" x2="318.4" y2="757.33" stroke="#000" stroke-width="1.8" />
<text x="312.6" y="761.07" font-size="10.7" text-anchor="end" font-weight="bold" >10</text>
<line x1="313.6" y1="790.05" x2="318.4" y2="790.05" stroke="#000" stroke-width="1.8" />
<text x="312.6" y="793.79" font-size="10.7" text-anchor="end" font-weight="bold" >0</text>
<line x1="317.5" y1="790.05" x2="514.5" y2="790.05" stroke="#000" stroke-width="1.8" />
<line x1="368" y1="790.05" x2="368" y2="795.05" stroke="#000" stroke-width="1.8" />
<text x="368" y="804.5" font-size="11" text-anchor="middle" font-weight="bold" >Vehicle</text>
<line x1="465.75" y1="790.05" x2="465.75" y2="795.05" stroke="#000" stroke-width="1.8" />
<text x="465.75" y="804.5" font-size="11" text-anchor="middle" font-weight="bold" >Radium-223</text>
<text x="416.7" y="656" font-size="12.6" text-anchor="middle" font-weight="bold" >LuCaP 58</text>
<text transform="translate(296.0,722.8) rotate(-90)" font-size="12.6" text-anchor="middle" font-weight="bold">Tumor-bone interface (mm)</text>
<line x1="367.5" y1="686.75" x2="367.5" y2="760.25" stroke="#000" stroke-width="1.25" />
<line x1="367.5" y1="771.75" x2="367.5" y2="780.5" stroke="#000" stroke-width="1.25" />
<line x1="351" y1="686.75" x2="384" y2="686.75" stroke="#000" stroke-width="1.25" />
<line x1="351" y1="780.5" x2="384" y2="780.5" stroke="#000" stroke-width="1.25" />
<rect x="334.5" y="760.25" width="66" height="11.5" fill="#fff" stroke="#000" stroke-width="1.25"/>
<line x1="334.5" y1="768" x2="400.5" y2="768" stroke="#000" stroke-width="1.25" />
<line x1="361" y1="759.25" x2="374" y2="759.25" stroke="#000" stroke-width="1.25" />
<line x1="367.5" y1="752.25" x2="367.5" y2="766.25" stroke="#000" stroke-width="1.25" />
<line x1="448.8" y1="776.2" x2="482.6" y2="776.2" stroke="#000" stroke-width="1.3" />
<rect x="432.4" y="783.3" width="66.2" height="4.7" fill="#1b4180" stroke="#08142a" stroke-width="1"/>
<line x1="449" y1="788.5" x2="482.6" y2="788.5" stroke="#333" stroke-width="0.8" />
<line x1="459" y1="785.4" x2="472" y2="785.4" stroke="#0d2a55" stroke-width="1.0" />
<line x1="465.6" y1="776.2" x2="465.6" y2="790" stroke="#000" stroke-width="1.3" />
<text x="465.5" y="772.8" font-size="10" text-anchor="middle" font-weight="bold" class="st">***</text>
</g>
</svg>
</body>
</html>
